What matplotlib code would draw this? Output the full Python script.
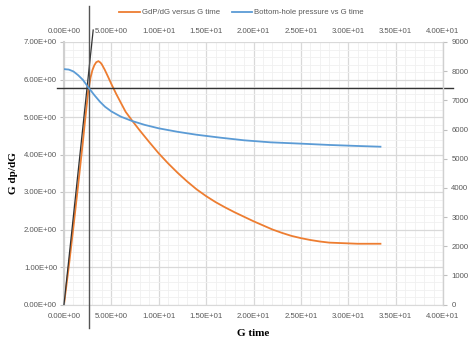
import matplotlib
matplotlib.use("Agg")
import matplotlib.pyplot as plt
from matplotlib.ticker import MultipleLocator, FixedLocator

# G-function derivative (left axis)
g_deriv = [0, 0.5, 0.92, 1.5, 2.0, 2.22, 2.57, 2.8, 3.0, 3.2, 3.4, 3.63, 3.85, 4.0,
           4.3, 4.6, 5.0, 5.5, 6.0, 6.5, 7.2, 8.0, 9.0, 10, 11, 12, 13, 14, 15, 16,
           17, 18, 19, 20, 21, 22, 23, 24, 25, 26, 27, 28, 29, 30, 31, 32, 33.4]
gdpdg = [0, 1.0, 1.9, 3.2, 4.35, 4.9, 5.72, 6.05, 6.25, 6.38, 6.46, 6.49, 6.45, 6.40,
         6.26, 6.10, 5.88, 5.62, 5.38, 5.14, 4.9, 4.64, 4.33, 4.03, 3.76, 3.51, 3.28,
         3.07, 2.89, 2.73, 2.59, 2.46, 2.34, 2.22, 2.11, 2.0, 1.91, 1.83, 1.77, 1.72,
         1.68, 1.65, 1.64, 1.63, 1.62, 1.62, 1.62]

# Bottom-hole pressure (right axis)
g_bhp = [0, 0.5, 1.0, 1.5, 2.0, 2.6, 3.2, 3.8, 4.33, 5.0, 6.0, 7.2, 8.5, 10, 12, 14,
         16.5, 19, 21.8, 25, 28, 31, 33.4]
bhp = [8070, 8055, 7990, 7860, 7700, 7430, 7180, 6950, 6780, 6620, 6440, 6290, 6160,
       6040, 5920, 5820, 5720, 5630, 5560, 5515, 5470, 5435, 5410]

# Tick labels
x_ticks = [0, 5, 10, 15, 20, 25, 30, 35, 40]
x_labels = ["0.00E+00", "5.00E+00", "1.00E+01", "1.50E+01", "2.00E+01",
            "2.50E+01", "3.00E+01", "3.50E+01", "4.00E+01"]
y_ticks = [0, 1, 2, 3, 4, 5, 6, 7]
y_labels = ["0.00E+00", "1.00E+00", "2.00E+00", "3.00E+00", "4.00E+00",
            "5.00E+00", "6.00E+00", "7.00E+00"]
p_ticks = [0, 1000, 2000, 3000, 4000, 5000, 6000, 7000, 8000, 9000]

# Closure-pick construction lines
tangent_end = (3.08, 7.32)
closure_g = 2.67
closure_value = 5.77

ORANGE = "#ED7D31"
BLUE = "#5B9BD5"
TICK_COLOR = "#595959"

plt.rcParams["font.family"] = ["Liberation Sans", "DejaVu Sans"]

fig = plt.figure(figsize=(4.74, 3.45), dpi=100)
ax = fig.add_axes([64 / 474, 1 - 304.5 / 345, (443 - 64) / 474, (304.5 - 42) / 345])
ax2 = ax.twinx()

ax.set_xlim(0, 40)
ax.set_ylim(0, 7)
ax2.set_ylim(0, 9000)

ax.xaxis.set_major_locator(FixedLocator(x_ticks))
ax.set_xticklabels(x_labels)
ax.xaxis.set_minor_locator(MultipleLocator(1))
ax.yaxis.set_major_locator(FixedLocator(y_ticks))
ax.set_yticklabels(y_labels)
ax.yaxis.set_minor_locator(MultipleLocator(0.2))
ax2.yaxis.set_major_locator(FixedLocator(p_ticks))
ax2.set_yticklabels([str(v) for v in p_ticks])

ax.grid(which="major", color="#d9d9d9", lw=0.9)
ax.grid(which="minor", color="#f0f0f0", lw=0.6)
ax.set_axisbelow(True)

for a in (ax, ax2):
    for s in a.spines.values():
        s.set_visible(False)
ax.spines["left"].set_visible(True)
ax.spines["left"].set_color("#d0d0d0")
ax.spines["left"].set_linewidth(1.5)
ax.spines["bottom"].set_visible(True)
ax.spines["bottom"].set_color("#d9d9d9")
ax2.spines["right"].set_visible(True)
ax2.spines["right"].set_color("#d0d0d0")
ax2.spines["right"].set_linewidth(1.0)

ax.tick_params(axis="both", which="both", labelsize=5.6, labelcolor=TICK_COLOR)
ax.tick_params(axis="x", which="major", length=0, pad=6)
ax.tick_params(axis="y", which="major", length=3, color="#bfbfbf", pad=2)
ax.tick_params(which="minor", length=0)
ax2.tick_params(axis="y", which="major", labelsize=5.6, labelcolor=TICK_COLOR,
                length=3, color="#bfbfbf", pad=3)

# Secondary x axis on top with the same G-time scale
top = ax.secondary_xaxis("top")
top.xaxis.set_major_locator(FixedLocator(x_ticks))
top.set_xticklabels(x_labels)
top.tick_params(labelsize=5.6, labelcolor=TICK_COLOR, length=0, pad=5)
top.spines["top"].set_visible(False)

l1, = ax.plot(g_deriv, gdpdg, color=ORANGE, lw=1.3, label="GdP/dG versus G time",
              solid_joinstyle="round")
l2, = ax2.plot(g_bhp, bhp, color=BLUE, lw=1.3, label="Bottom-hole pressure vs G time",
               solid_joinstyle="round")

# Tangent from origin and closure cross-hair
ax.plot([0, tangent_end[0]], [0, tangent_end[1]], color="#333333", lw=0.9,
        clip_on=False, zorder=5)
ax.plot([closure_g, closure_g], [7.96, -0.63], color="#555555", lw=1.0,
        clip_on=False, zorder=5)
ax.plot([-0.74, 41.1], [closure_value, closure_value], color="#333333", lw=1.0,
        clip_on=False, zorder=5)

ax.set_ylabel("G dp/dG", family=["Liberation Serif"], fontweight="bold", fontsize=8)
ax.yaxis.set_label_coords(-0.121, 0.5)
ax.set_xlabel("G time", family=["Liberation Serif"], fontweight="bold", fontsize=8)
ax.xaxis.set_label_coords(0.5, -0.093)

fig.legend(handles=[l1, l2], loc="center", bbox_to_anchor=(0.51, 0.963), ncol=2,
           frameon=False, fontsize=5.6, handlelength=2.6, columnspacing=1.5,
           handletextpad=0.3, labelcolor=TICK_COLOR)

fig.savefig("out.png", dpi=100)
